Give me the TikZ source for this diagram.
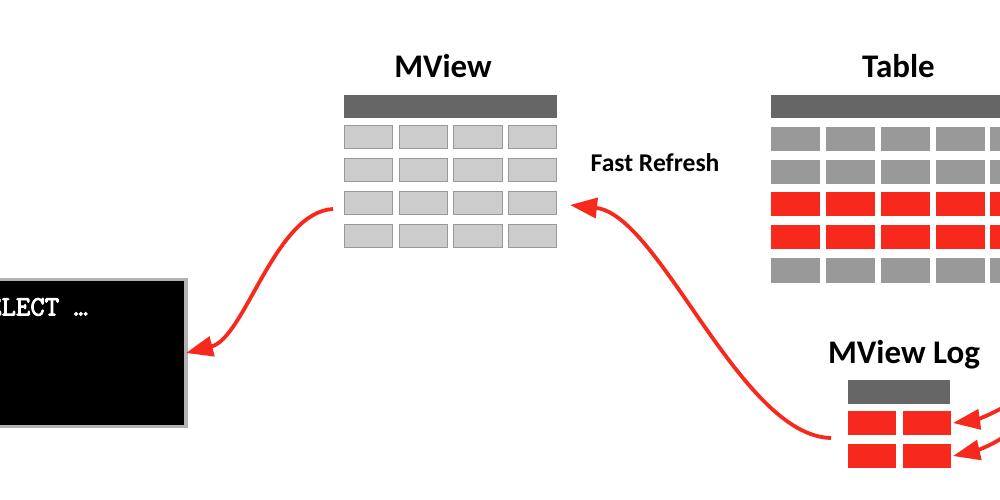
\documentclass[tikz,border=0pt]{standalone}
\usepackage{fontspec}
\setmainfont{Carlito}
\newfontfamily\codefont[FakeBold=3]{Latin Modern Mono}
\usetikzlibrary{arrows.meta,positioning}
\definecolor{hdr}{HTML}{666666}
\definecolor{lite}{HTML}{CCCCCC}
\definecolor{mid}{HTML}{999999}
\definecolor{hot}{HTML}{F7291C}
\tikzset{
  x=1pt,y=-1pt,
  cell/.style={rectangle,inner sep=0pt,outer sep=0pt,anchor=north west,minimum width=#1},
  hdrbar/.style={cell=#1,fill=hdr,draw=none,minimum height=23.5pt},
  litecell/.style={cell=48.3pt,fill=lite,draw=mid,line width=.7pt,minimum height=23.3pt},
  midcell/.style={cell=49pt,fill=mid,minimum height=24.5pt},
  hotcell/.style={cell=49pt,fill=hot,minimum height=24pt},
  title/.style={font=\bfseries\fontsize{33}{35}\selectfont,text=black,inner sep=0pt,anchor=base},
  caption/.style={font=\bfseries\fontsize{25.6}{27}\selectfont,text=black,inner sep=0pt,anchor=base west},
  flow/.style={draw=hot,line width=3.8pt,-{Triangle[length=27pt,width=20pt]}},
}
\begin{document}
\begin{tikzpicture}
\useasboundingbox (0,0) rectangle (1000,500);
\clip (0,0) rectangle (1000,500);
\fill[white] (0,0) rectangle (1000,500);

% titles
\node[title] (tmview) at (443,78) {MView};
\node[title] (ttable) at (898.5,78) {Table};
\node[title] (tlog) at (904,363.5) {MView Log};
\node[caption] (tfast) at (590.5,171) {Fast Refresh};

% MView
\node[hdrbar=213pt] (mh) at (344,95) {};
\foreach \r/\y in {1/125.3,2/158.3,3/191.3,4/224.3}
  \foreach \c/\x in {1/344.3,2/399.3,3/453.8,4/508.3}
    \node[litecell] (m-\r-\c) at (\x,\y) {};

% Table
\node[hdrbar=240pt] (th) at (771,95) {};
\foreach \r/\y/\k in {1/126.5/midcell,2/159.5/midcell,3/192/hotcell,4/225/hotcell,5/258/midcell}
  \foreach \c/\x in {1/771,2/826,3/881,4/936,5/990}
    \node[\k] (t-\r-\c) at (\x,\y) {};

% Log
\node[hdrbar=102pt] (lh) at (848,380) {};
\foreach \r/\y in {1/411,2/444}
  \foreach \c/\x in {1/848,2/903}
    \node[hotcell,minimum width=48pt] (l-\r-\c) at (\x,\y) {};

% Screen
\node[rectangle,inner sep=0pt,outer sep=0pt,anchor=north west,minimum width=240pt,minimum height=147pt,
      fill=black,draw=black!30,line width=3.4pt] (screen) at (-54,279.5) {};
\node[anchor=base west,inner sep=0pt,text=white,font=\codefont\fontsize{28}{30}\selectfont] (sql) at (-27.5,315.5) {SELECT …};

% free ends
\coordinate (a1) at (333,209);
\coordinate (a2) at (831,438);
\coordinate (mtip) at (570,205);
\coordinate (r1) at (1002,408);
\coordinate (r2) at (1002,438);

% connectors
\draw[flow] (a1) .. controls (275,212) and (245,338) .. (screen.east);
\draw[flow] (a2) .. controls (740,436) and (660,215) .. (mtip);
\draw[flow] (r1) .. controls (990,415) and (975,420) .. ([xshift=2pt]l-1-2.east);
\draw[flow] (r2) .. controls (990,446) and (975,451) .. ([xshift=2pt]l-2-2.east);
\end{tikzpicture}
\end{document}
